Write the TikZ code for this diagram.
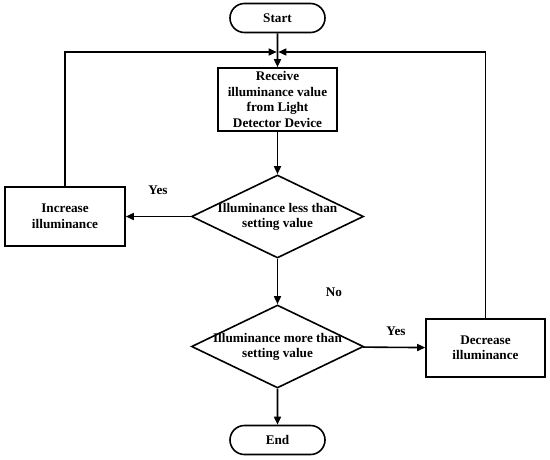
\documentclass[tikz,border=0pt]{standalone}
\usepackage{fontspec}
\setmainfont{Liberation Serif}
\usetikzlibrary{shapes.geometric,shapes.misc,arrows.meta}
\tikzset{
  every node/.style={font=\bfseries\fontsize{13.2}{15.5}\selectfont},
  line/.style={line width=1.6pt},
  arr/.style={line width=1.6pt,-{Triangle[length=8pt,width=7pt]}},
  term/.style={draw,line width=1.6pt,rounded rectangle,minimum width=95pt,minimum height=29pt,inner sep=0pt},
  proc/.style={draw,line width=1.6pt,rectangle,align=center,inner sep=0pt},
  dec/.style={draw,line width=1.6pt,diamond,minimum width=172pt,minimum height=83pt,inner sep=0pt},
  txt/.style={align=center,inner sep=0pt}
}
\begin{document}
\begin{tikzpicture}[x=1pt,y=-1pt]
\useasboundingbox (0,0) rectangle (550,459);
\node[term] (start) at (277.5,18) {Start};
\node[proc,minimum width=119pt,minimum height=63pt] (recv) at (277.5,99.5) {Receive\\illuminance value\\from Light\\Detector Device};
\node[dec] (d1) at (277.5,216.5) {};
\node[txt] (d1t) at (277.5,217) {Illuminance less than\\setting value};
\node[proc,minimum width=120pt,minimum height=59pt] (inc) at (65,216.5) {Increase\\illuminance};
\node[dec] (d2) at (277.5,346.5) {};
\node[txt] (d2t) at (277.5,347) {Illuminance more than\\setting value};
\node[proc,minimum width=119pt,minimum height=58pt] (dec) at (485.5,348) {Decrease\\illuminance};
\node[term] (end) at (277.5,440) {End};
\coordinate (j) at (277.5,52);
\coordinate (jl) at (65,52);
\coordinate (jr) at (485.5,52);
\node[txt] (yes1) at (158,190) {Yes};
\node[txt] (no) at (334,292) {No};
\node[txt] (yes2) at (396,331) {Yes};
\draw[arr] (start) -- (recv);
\draw[arr] (recv) -- (d1);
\draw[arr] (d1) -- (inc);
\draw[arr] (d1) -- (d2);
\draw[arr] (d2) -- (dec);
\draw[arr] (d2) -- (end);
\draw[arr] (inc.north) -- (jl) -- ([xshift=-0.8pt]j);
\draw[arr] (dec.north) -- (jr) -- ([xshift=0.8pt]j);
\end{tikzpicture}
\end{document}
